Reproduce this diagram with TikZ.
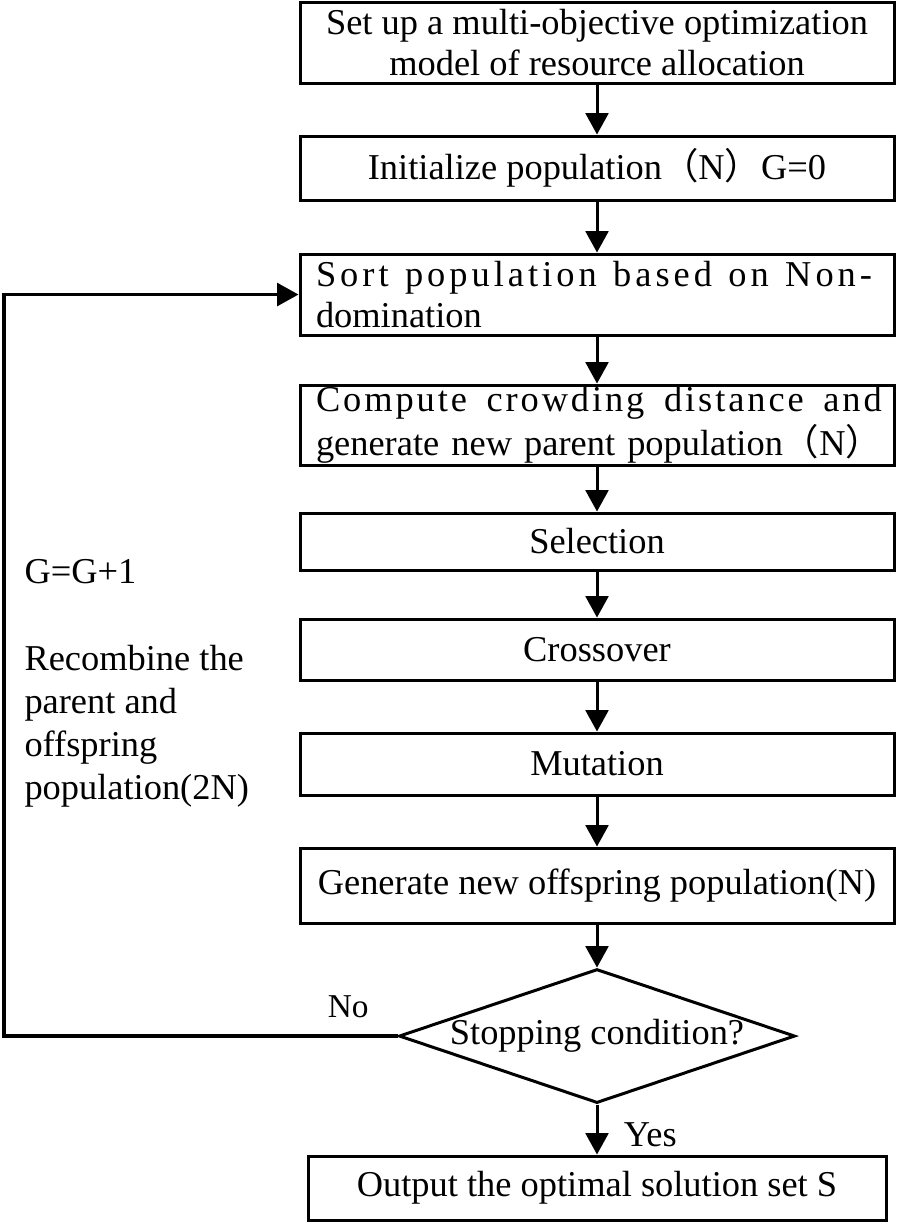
\documentclass[tikz,border=0pt]{standalone}
\usepackage{fontspec}
\setmainfont{Liberation Serif}
\newfontfamily\cjk{Noto Sans CJK SC}
\usepackage{tikz}
\usetikzlibrary{shapes.geometric,positioning,arrows.meta}
\newcommand{\lp}{{\cjk （}}
\newcommand{\rp}{{\cjk ）}}
\newcommand{\spreadline}[3]{\mbox{\addfontfeature{LetterSpace=#1}\spaceskip=#2em\relax #3}}

\begin{document}
\begin{tikzpicture}[->,>={Triangle[length=16pt,width=17pt]},line width=2.25pt,node distance=37.5pt,
		font=\fontsize{27.3}{31}\selectfont,
		box/.style={draw,rectangle,minimum width=445.5pt,inner xsep=12pt,inner ysep=0pt},
		cond/.style={draw,diamond,aspect=2.95,minimum width=297pt,minimum height=100.5pt,inner sep=0pt}]
		\useasboundingbox (0,0) rectangle (672.75pt,-916.5pt);
		\node[box,minimum height=60.75pt,align=center] (model) at (447.75pt,-31.9pt) {Set up a multi-objective optimization\\model of resource allocation};
		\node[box,minimum height=48pt] (init) [below=of model] {Initialize population\lp N\rp G=0};
		\node[box,minimum height=60.75pt,text width=421.5pt,align=left] (sort) [below=38.25pt of init] {\spreadline{11}{0.45}{Sort population based on Non-}\\domination};
		\node[box,minimum height=60pt,text width=421.5pt,align=left,font=\fontsize{27.3}{33}\selectfont] (crowd) [below=35.25pt of sort] {\spreadline{8}{0.54}{Compute crowding distance and}\\\mbox{generate new parent population\lp N\rp}};
		\node[box,minimum height=42.75pt] (sel) [below=33.75pt of crowd] {Selection};
		\node[box,minimum height=45.75pt] (cross) [below=34.5pt of sel] {Crossover};
		\node[box,minimum height=46.5pt] (mut) [below=of cross] {Mutation};
		\node[box,minimum height=56.25pt] (offs) [below=of mut] {Generate new offspring population(N)};
		\node[cond] (stop) [below=32.25pt of offs] {Stopping condition?};
		\node[box,minimum width=433.5pt,minimum height=48pt] (out) [below=of stop] {Output the optimal solution set S};

		\node[anchor=base west,inner sep=0pt] (incr) at (17.25pt,-437.25pt) {G=G+1};
		\node[anchor=north west,align=left,inner sep=0pt,font=\fontsize{27.3}{32.25}\selectfont] (recomb) at (17.25pt,-483pt) {Recombine the\\parent and\\offspring\\population(2N)};
		\node[inner sep=0pt,font=\fontsize{25}{30}\selectfont] (no) [above left=12.75pt and 20.5pt of stop.west] {No};
		\coordinate (back) at (3pt,0);

		\draw 	(model) edge (init)
				(init) edge (sort)
				(sort) edge (crowd)
				(crowd) edge (sel)
				(sel) edge (cross)
				(cross) edge (mut)
				(mut) edge (offs)
				(offs) edge (stop)
				(stop) edge node[right=19pt,pos=0.6,inner sep=0pt] {Yes} (out);
		\draw[line width=2.6pt] (stop.west) -- (back |- stop.west) |- (sort.west);
	\end{tikzpicture}
\end{document}
